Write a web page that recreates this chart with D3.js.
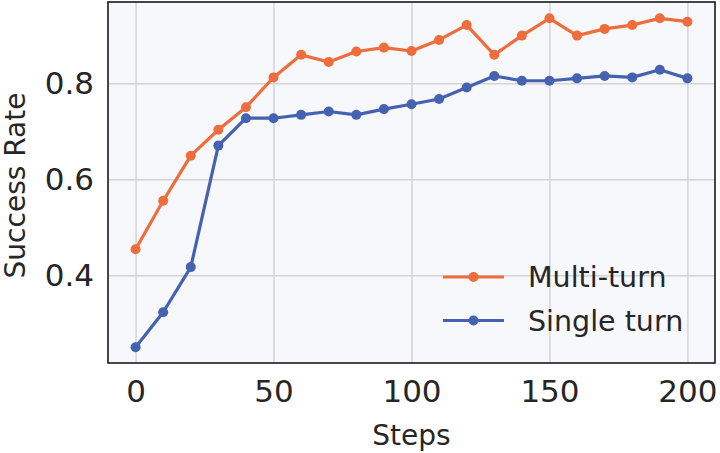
<!DOCTYPE html>
<html>
<head>
<meta charset="utf-8">
<script src="https://cdn.jsdelivr.net/npm/d3@7"></script>
<style>
  body { margin: 0; background: #fff; }
  text { font-family: "DejaVu Sans", sans-serif; fill: #262626; }
</style>
</head>
<body>
<div id="chart"></div>
<script>
// steps on the x axis
var steps = [0, 10, 20, 30, 40, 50, 60, 70, 80, 90, 100, 110, 120, 130, 140, 150, 160, 170, 180, 190, 200];

// success rate per series
var multiTurn = [0.454, 0.555, 0.649, 0.703, 0.750, 0.812, 0.859, 0.844, 0.866, 0.874, 0.867,
                 0.890, 0.921, 0.859, 0.899, 0.935, 0.899, 0.913, 0.921, 0.935, 0.928];
var singleTurn = [0.250, 0.323, 0.417, 0.670, 0.727, 0.727, 0.734, 0.741, 0.734, 0.746, 0.756,
                  0.767, 0.791, 0.815, 0.805, 0.805, 0.810, 0.815, 0.812, 0.828, 0.810];

var xTicks = [0, 50, 100, 150, 200];
var yTicks = [0.4, 0.6, 0.8];

var series = [
    {name: "Multi-turn", values: multiTurn, color: "#ef6d3c"},
    {name: "Single turn", values: singleTurn, color: "#4562b0"}
];

var width = 720,
    height = 453;

var margin = {top: 2, right: 5, bottom: 90, left: 108};
var innerW = width - margin.left - margin.right,
    innerH = height - margin.top - margin.bottom;

var x = d3.scaleLinear()
    .domain([-10, 210])
    .range([0, innerW]);

var y = d3.scaleLinear()
    .domain([0.2173, 0.969])
    .range([innerH, 0]);

var svg = d3.select("#chart").append("svg")
    .attr("width", width)
    .attr("height", height);

var g = svg.append("g")
    .attr("transform", "translate(" + margin.left + "," + margin.top + ")");

// plot background
g.append("rect")
    .attr("width", innerW)
    .attr("height", innerH)
    .attr("fill", "#f7f8fb");

// grid lines
g.append("g")
    .attr("transform", "translate(0," + innerH + ")")
    .call(d3.axisBottom(x).tickValues(xTicks).tickSize(-innerH).tickFormat(""))
    .call(function(a) {
        a.select(".domain").remove();
        a.selectAll("line").attr("stroke", "#d4d4d4").attr("stroke-width", 1.5);
    });

g.append("g")
    .call(d3.axisLeft(y).tickValues(yTicks).tickSize(-innerW).tickFormat(""))
    .call(function(a) {
        a.select(".domain").remove();
        a.selectAll("line").attr("stroke", "#d4d4d4").attr("stroke-width", 1.5);
    });

// tick labels
g.append("g")
    .attr("transform", "translate(0," + innerH + ")")
    .call(d3.axisBottom(x).tickValues(xTicks).tickSize(0).tickPadding(17).tickFormat(d3.format("d")))
    .call(function(a) {
        a.select(".domain").remove();
        a.selectAll("text")
            .style("font-family", "DejaVu Sans")
            .style("font-size", "31px")
            .attr("fill", "#262626");
    });

g.append("g")
    .call(d3.axisLeft(y).tickValues(yTicks).tickSize(0).tickPadding(14).tickFormat(d3.format(".1f")))
    .call(function(a) {
        a.select(".domain").remove();
        a.selectAll("text")
            .style("font-family", "DejaVu Sans")
            .style("font-size", "31px")
            .attr("fill", "#262626");
    });

// lines and markers
var line = d3.line()
    .x(function(d, i) { return x(steps[i]); })
    .y(function(d) { return y(d); });

series.forEach(function(s) {
    g.append("path")
        .datum(s.values)
        .attr("d", line)
        .attr("fill", "none")
        .attr("stroke", s.color)
        .attr("stroke-width", 3.2)
        .attr("stroke-linejoin", "round");

    g.selectAll(null)
        .data(s.values)
        .enter().append("circle")
        .attr("cx", function(d, i) { return x(steps[i]); })
        .attr("cy", function(d) { return y(d); })
        .attr("r", 5)
        .attr("fill", s.color);
});

// frame
g.append("rect")
    .attr("width", innerW)
    .attr("height", innerH)
    .attr("fill", "none")
    .attr("stroke", "#1a1a1a")
    .attr("stroke-width", 1.6);

// axis titles
svg.append("text")
    .attr("x", margin.left + innerW / 2)
    .attr("y", 445)
    .attr("text-anchor", "middle")
    .style("font-size", "28px")
    .text("Steps");

svg.append("text")
    .attr("transform", "translate(25," + (margin.top + innerH / 2 + 3) + ") rotate(-90)")
    .attr("text-anchor", "middle")
    .style("font-size", "28px")
    .text("Success Rate");

// legend
var legend = g.append("g")
    .attr("transform", "translate(" + (443 - margin.left) + "," + (277 - margin.top) + ")");

series.forEach(function(s, i) {
    var row = legend.append("g").attr("transform", "translate(0," + (i * 43.5) + ")");
    row.append("line")
        .attr("x1", 0).attr("x2", 61)
        .attr("stroke", s.color)
        .attr("stroke-width", 3.2);
    row.append("circle")
        .attr("cx", 30.5)
        .attr("r", 5)
        .attr("fill", s.color);
    row.append("text")
        .attr("x", 85)
        .attr("y", 10)
        .style("font-size", "28.5px")
        .text(s.name);
});
</script>
</body>
</html>
